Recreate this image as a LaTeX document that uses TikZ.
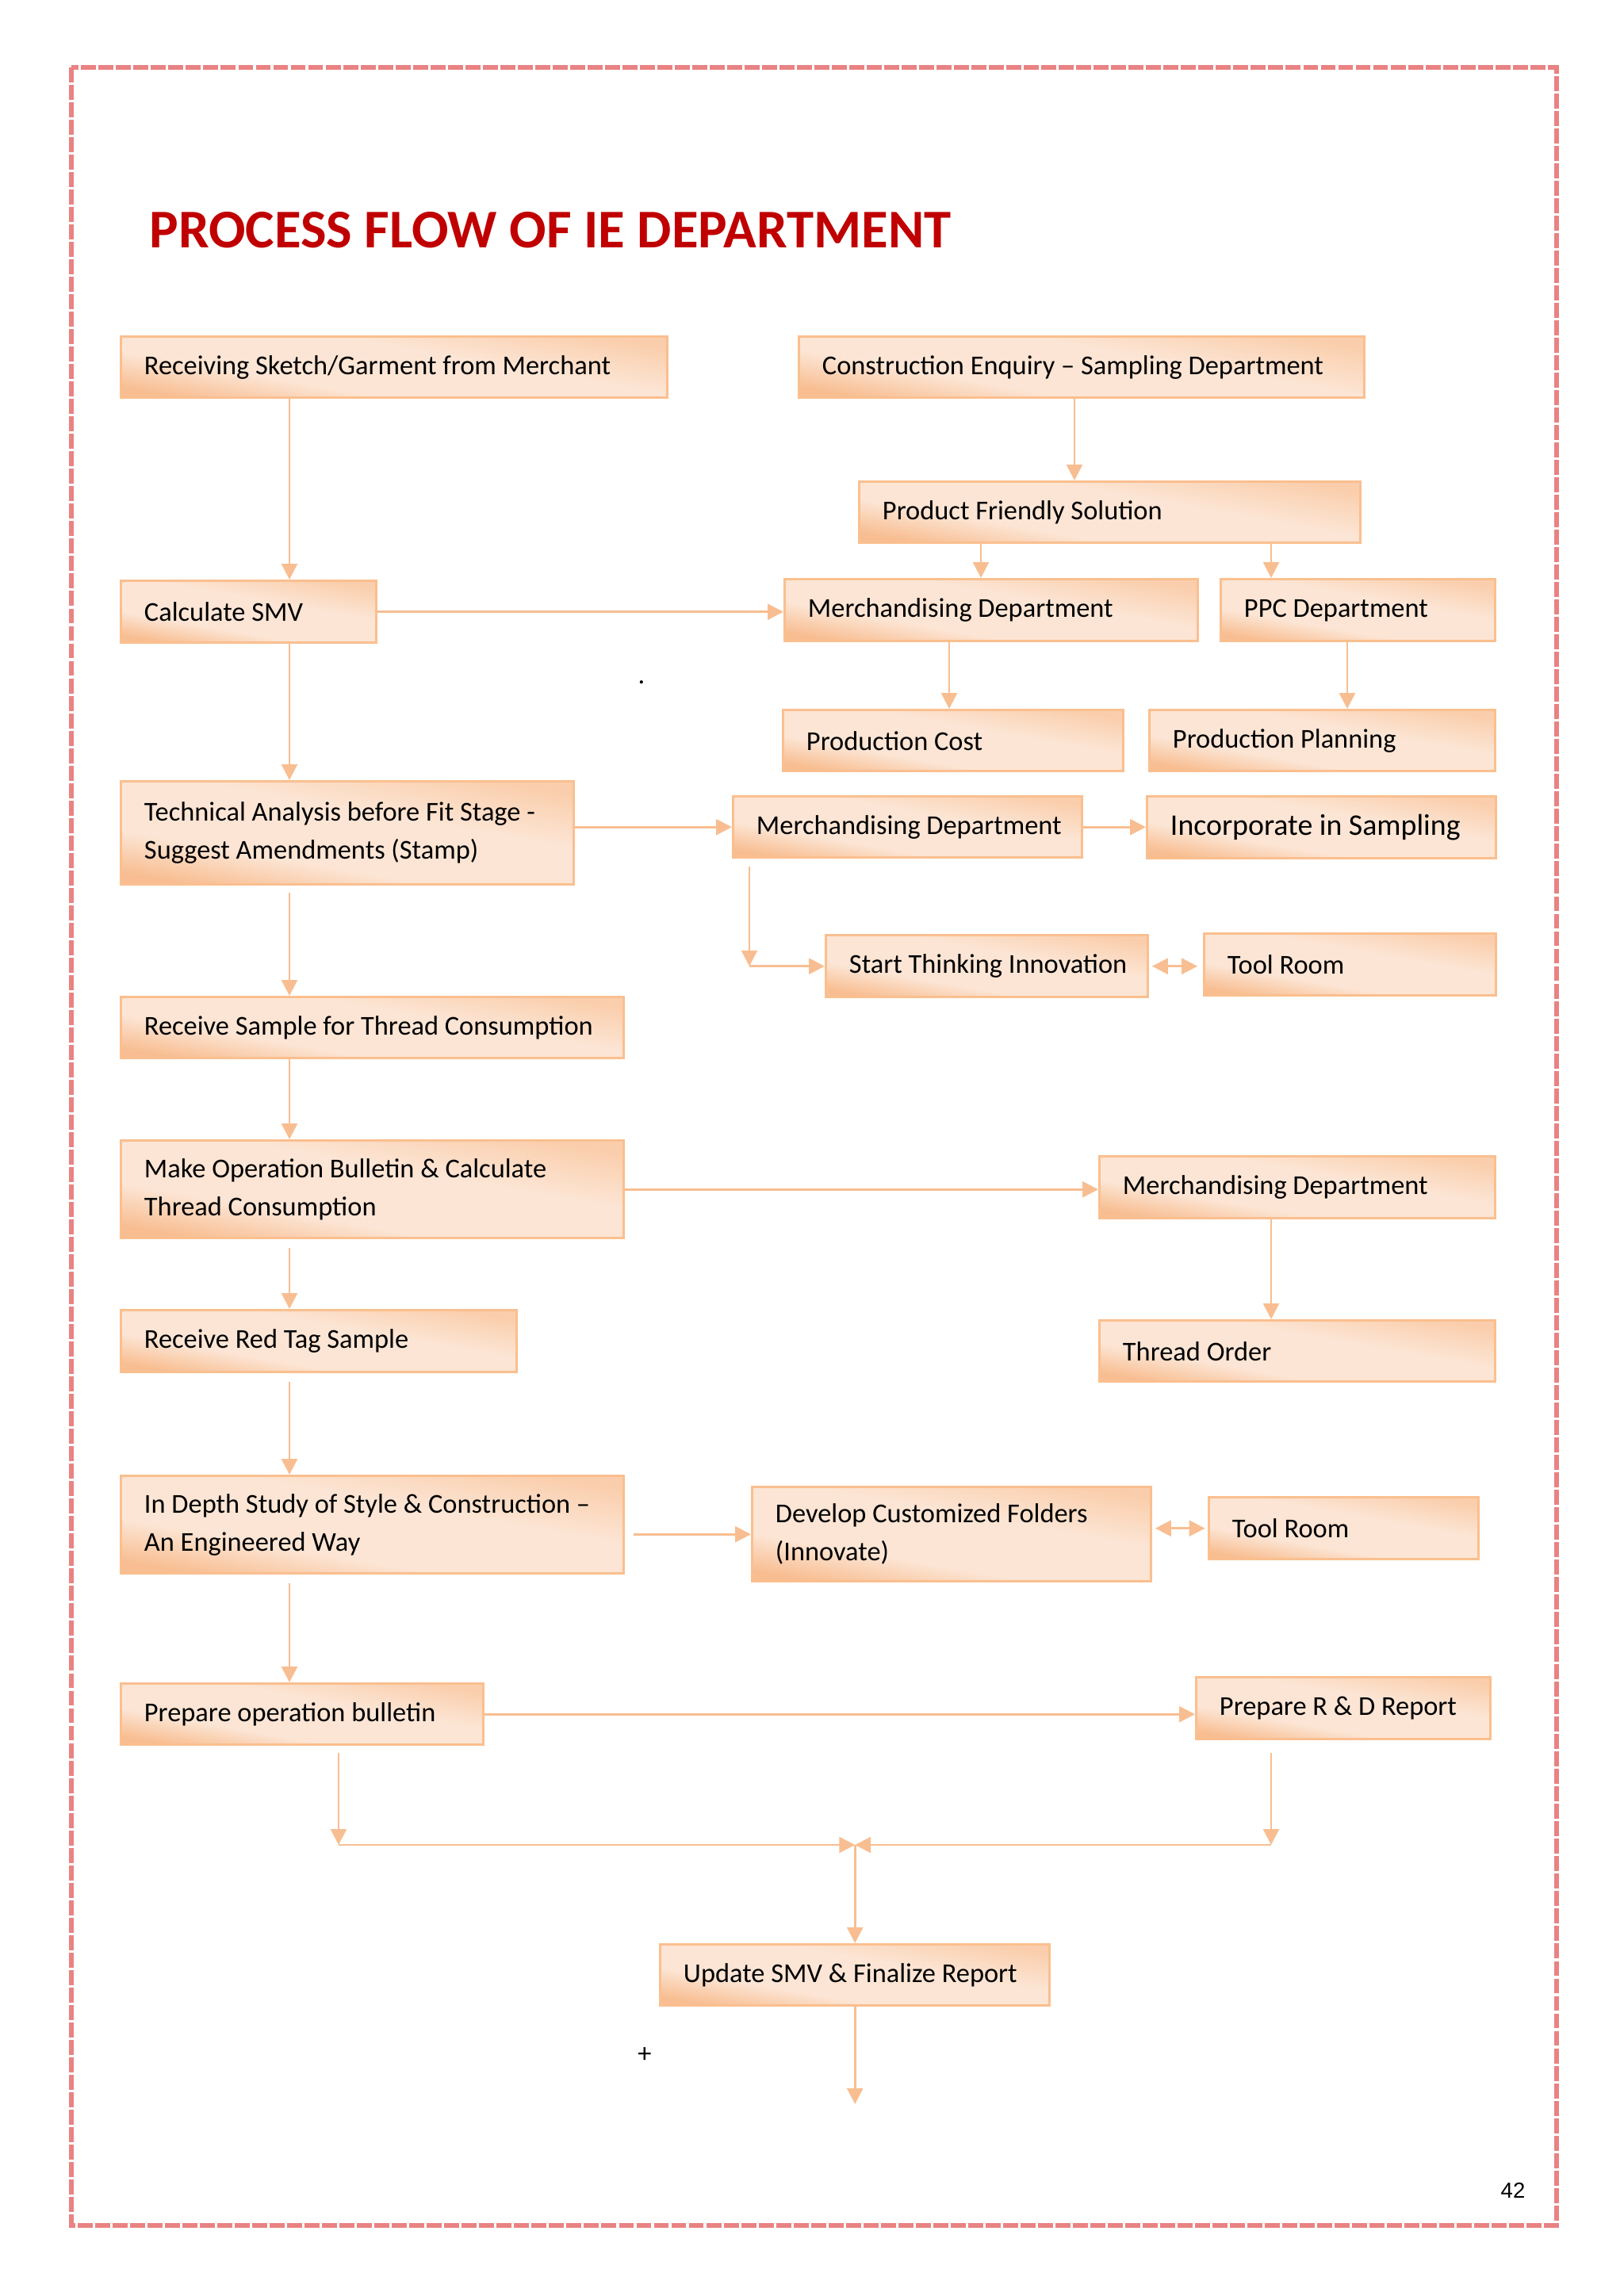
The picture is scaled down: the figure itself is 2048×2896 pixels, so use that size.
\documentclass[tikz,border=0pt]{standalone}
\usepackage{fontspec}
\setmainfont{Carlito}
\newfontfamily\pagefont{Liberation Sans}
\usetikzlibrary{arrows.meta}
\definecolor{boxline}{RGB}{250,191,143}
\definecolor{flowline}{RGB}{248,190,145}
\definecolor{boxdark}{RGB}{248,190,146}
\definecolor{boxlight}{RGB}{252,229,212}
\definecolor{boxtop}{RGB}{250,206,172}
\definecolor{titlered}{RGB}{192,0,0}
\definecolor{framered}{RGB}{234,130,130}
\pgfdeclareverticalshading{boxshade}{100bp}{color(0bp)=(boxdark); color(25bp)=(boxdark); color(38bp)=(boxlight); color(58bp)=(boxlight); color(75bp)=(boxtop); color(100bp)=(boxtop)}

\begin{document}
\begin{tikzpicture}[x=0.2907pt,y=0.2907pt,yscale=-1,
  pbox/.style 2 args={draw=boxline, line width=1pt, shade, shading=boxshade, shading angle=-10,
    anchor=north west, minimum width=#1*0.2907pt, minimum height=#2*0.2907pt,
    text width=#1*0.2907pt-17pt, inner xsep=8pt, inner ysep=0pt, align=left,
    execute at begin node={\rightskip=0pt plus 1fil minus 60pt\spaceskip=\fontdimen2\font\relax},
    font=\fontsize{10}{14}\selectfont},
  flow/.style={draw=flowline, line width=0.8pt, -{Triangle[length=5.8pt,width=5.8pt]}},
  twoway/.style={draw=flowline, line width=0.8pt, {Triangle[length=5.8pt,width=5.8pt]}-{Triangle[length=5.8pt,width=5.8pt]}},
  frame/.style={draw=framered, line width=1.5pt, dash pattern=on 5.5pt off 0.9pt}]
\useasboundingbox (0,0) rectangle (2048,2896);

%Shape: Page Frame
\draw [frame] (90,85) rectangle (1963,2807);

% Text Node
\node [anchor=base west, inner sep=0pt, text=titlered, font=\fontsize{20}{24}\selectfont\bfseries] (title) at (188,312) {PROCESS FLOW OF IE DEPARTMENT};

%Shape: Rectangle
\node [pbox={689}{77}] (recv) at (151,423) {Receiving Sketch/Garment from Merchant};
%Shape: Rectangle
\node [pbox={713}{77}] (enq) at (1006,423) {Construction Enquiry – Sampling Department};
%Shape: Rectangle
\node [pbox={632}{77}] (pfs) at (1082,606) {Product Friendly Solution};
%Shape: Rectangle
\node [pbox={322}{78}] (smv) at (151,731) {Calculate SMV};
%Shape: Rectangle
\node [pbox={521}{78}] (merch1) at (988,729) {Merchandising Department};
%Shape: Rectangle
\node [pbox={346}{78}] (ppc) at (1538,729) {PPC Department};
%Shape: Rectangle
\node [pbox={429}{77}] (cost) at (986,894) {Production Cost};
%Shape: Rectangle
\node [pbox={436}{77}] (plan) at (1448,894) {Production Planning};
%Shape: Rectangle
\node [pbox={571}{130}] (tech) at (151,984) {Technical Analysis before Fit Stage -\\Suggest Amendments (Stamp)};
%Shape: Rectangle
\node [pbox={440}{77}] (merch2) at (923,1003) {Merchandising Department};
%Shape: Rectangle
\node [pbox={440}{78}, font=\fontsize{11}{14}\selectfont] (incorp) at (1445,1003) {Incorporate in Sampling};
%Shape: Rectangle
\node [pbox={406}{78}] (think) at (1040,1178) {Start Thinking Innovation};
%Shape: Rectangle
\node [pbox={368}{78}] (tool1) at (1517,1176) {Tool Room};
%Shape: Rectangle
\node [pbox={634}{77}] (sample) at (151,1256) {Receive Sample for Thread Consumption};
%Shape: Rectangle
\node [pbox={634}{123}] (bulletin) at (151,1437) {Make Operation Bulletin \& Calculate\\Thread Consumption};
%Shape: Rectangle
\node [pbox={499}{78}] (merch3) at (1385,1457) {Merchandising Department};
%Shape: Rectangle
\node [pbox={499}{78}] (redtag) at (151,1651) {Receive Red Tag Sample};
%Shape: Rectangle
\node [pbox={499}{77}] (thread) at (1385,1664) {Thread Order};
%Shape: Rectangle
\node [pbox={634}{123}] (depth) at (151,1860) {In Depth Study of Style \& Construction –\\An Engineered Way};
%Shape: Rectangle
\node [pbox={503}{119}] (folders) at (947,1874) {Develop Customized Folders\\(Innovate)};
%Shape: Rectangle
\node [pbox={340}{78}] (tool2) at (1523,1887) {Tool Room};
%Shape: Rectangle
\node [pbox={457}{77}] (prep) at (151,2122) {Prepare operation bulletin};
%Shape: Rectangle
\node [pbox={371}{78}] (rnd) at (1507,2114) {Prepare R \& D Report};
%Shape: Rectangle
\node [pbox={491}{77}] (update) at (831,2451) {Update SMV \& Finalize Report};

%Columns
\coordinate (colL) at (365,0);
\coordinate (colB) at (1355,0);
\coordinate (colC) at (1237,0);
\coordinate (colR) at (1603,0);
\coordinate (colE) at (1197,0);
\coordinate (colF) at (1699,0);
\coordinate (colV) at (427,0);

%Straight Lines
\draw [flow] (recv.south -| colL) -- (smv.north -| colL);
\draw [flow] (enq.south -| colB) -- (pfs.north -| colB);
\draw [flow] (pfs.south -| colC) -- (merch1.north -| colC);
\draw [flow] (pfs.south -| colR) -- (ppc.north -| colR);
\draw [flow] (smv.east) -- (smv.east -| merch1.west);
\draw [flow] (merch1.south -| colE) -- (cost.north -| colE);
\draw [flow] (ppc.south -| colF) -- (plan.north -| colF);
\draw [flow] (smv.south -| colL) -- (tech.north -| colL);
\draw [flow] (merch2.west -| tech.east) -- (merch2.west);
\draw [flow] (merch2.east) -- (merch2.east -| incorp.west);
%Straight Lines
\coordinate (jtop) at (945,1093);
\coordinate (jturn) at (jtop |- think.west);
\draw [flow] (jtop) -- (jturn);
\draw [flow] (jturn) -- (think.west);
\draw [twoway, shorten <=1pt, shorten >=2pt] (think.east) -- (think.east -| tool1.west);
%Straight Lines
\draw [flow, shorten <=2.5pt] (tech.south -| colL) -- (sample.north -| colL);
\draw [flow] (sample.south -| colL) -- (bulletin.north -| colL);
\draw [flow] (bulletin.east) -- (bulletin.east -| merch3.west);
\draw [flow, shorten <=3pt] (bulletin.south -| colL) -- (redtag.north -| colL);
\draw [flow] (merch3.south -| colR) -- (thread.north -| colR);
\draw [flow, shorten <=3pt] (redtag.south -| colL) -- (depth.north -| colL);
\draw [flow, shorten <=3pt] (folders.west -| depth.east) -- (folders.west);
\draw [twoway, shorten <=1pt, shorten >=1pt] (folders.east |- tool2.west) -- (tool2.west);
\draw [flow, shorten <=3pt] (depth.south -| colL) -- (prep.north -| colL);
\draw [flow] (prep.east) -- (prep.east -| rnd.west);
%Straight Lines
\coordinate (merge) at (update.north |- 0,2327);
\draw [flow, shorten <=2.5pt] (prep.south -| colV) -- (merge -| colV);
\draw [flow] (merge -| colV) -- (merge);
\draw [flow, shorten <=4.5pt] (rnd.south -| colR) -- (merge -| colR);
\draw [flow] (merge -| colR) -- (merge);
\draw [flow] (merge) -- (update.north);
\coordinate (tail) at (update.south |- 0,2654);
\draw [flow] (update.south) -- (tail);

% Text Node
\node [inner sep=0pt, font=\fontsize{10}{12}\selectfont] (dot) at (809,861) {.};
% Text Node
\node [inner sep=0pt, font=\fontsize{10}{12}\selectfont] (plus) at (813,2592) {+};
% Text Node
\node [anchor=base, inner sep=0pt, font=\pagefont\fontsize{8}{10}\selectfont] (pnum) at (1908,2772) {42};

\end{tikzpicture}
\end{document}
